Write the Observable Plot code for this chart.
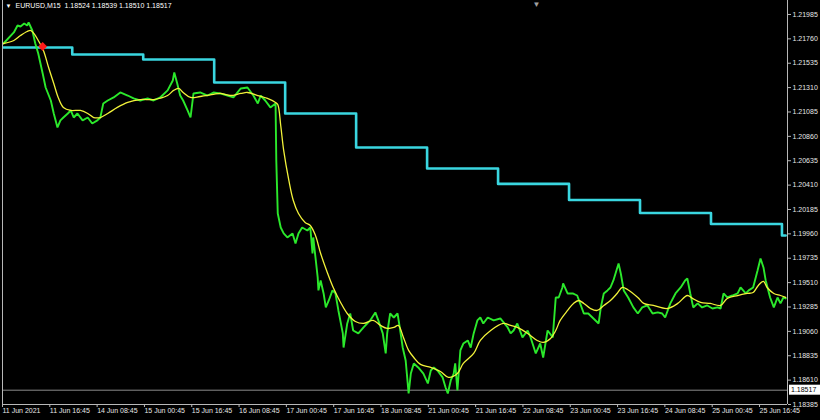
<!DOCTYPE html>
<html><head><meta charset="utf-8">
<script src="https://cdn.jsdelivr.net/npm/d3@7"></script>
<script src="https://cdn.jsdelivr.net/npm/@observablehq/plot@0.6"></script>
<style>
html,body{margin:0;padding:0;background:#000;}
#chart{width:820px;height:420px;position:relative;overflow:hidden;}
</style></head><body><div id="chart"></div>
<script>
const symbol = "EURUSD,M15";
const quote = ["1.18524", "1.18539", "1.18510", "1.18517"];
const lastPrice = 1.18517;

const priceTicks = [1.21985, 1.21760, 1.21535, 1.21310, 1.21085, 1.20860, 1.20635, 1.20410, 1.20185,
  1.19960, 1.19735, 1.19510, 1.19285, 1.19060, 1.18835, 1.18610, 1.18385];

const timeTickBars = [0, 64, 128, 192, 256, 320, 384, 448, 512, 576, 640, 704, 768, 832, 896, 960, 1024];
const timeTickLabels = ["11 Jun 2021", "11 Jun 16:45", "14 Jun 08:45", "15 Jun 00:45", "15 Jun 16:45",
  "16 Jun 08:45", "17 Jun 00:45", "17 Jun 16:45", "18 Jun 08:45", "21 Jun 00:45", "21 Jun 16:45",
  "22 Jun 08:45", "23 Jun 00:45", "23 Jun 16:45", "24 Jun 08:45", "25 Jun 00:45", "25 Jun 16:45"];

// close price (M15 bars, index from 11 Jun 00:45)
const closeBars = [0,14,19,23,28,32,34,39,43,47,53,57,64,68,73,77,81,87,91,95,100,107,114,120,127,131,135,141,149,158,168,176,185,195,203,212,222,229,231,235,239,243,249,253,257,266,276,284,293,303,311,321,330,338,344,348,354,361,368,369,371,375,379,384,391,395,399,404,411,415,418,419,425,426,429,433,436,440,445,449,453,459,460,465,469,473,480,487,496,503,507,513,517,519,523,528,533,536,540,544,548,551,555,561,568,574,578,582,587,594,598,601,605,609,611,614,618,622,628,632,636,641,645,649,655,663,672,682,686,690,695,702,709,713,720,726,730,736,743,747,751,756,757,763,770,776,780,785,791,798,805,808,812,817,821,825,832,835,839,845,852,858,864,871,878,885,891,895,902,909,916,922,925,929,933,939,945,952,959,966,970,974,979,986,993,997,1004,1008,1014,1020,1024,1028,1031,1037,1042,1047,1051,1055,1058];
const closeValues = [1.21717,1.21819,1.21883,1.21874,1.21902,1.21883,1.21911,1.21837,1.21717,1.21625,1.21440,1.21311,1.21191,1.21071,1.20942,1.21007,1.21034,1.21071,1.21099,1.21034,1.21071,1.21007,1.21034,1.20979,1.21007,1.21034,1.21164,1.21191,1.21219,1.21265,1.21237,1.21210,1.21191,1.21210,1.21191,1.21219,1.21284,1.21376,1.21450,1.21348,1.21237,1.21191,1.21099,1.21034,1.21256,1.21265,1.21237,1.21265,1.21256,1.21237,1.21219,1.21302,1.21311,1.21237,1.21164,1.21237,1.21191,1.21127,1.21164,1.20637,1.20148,1.20019,1.19964,1.19927,1.19964,1.19871,1.19964,1.20019,1.19991,1.20019,1.19779,1.19927,1.19558,1.19438,1.19530,1.19410,1.19281,1.19345,1.19438,1.19410,1.19253,1.19041,1.18911,1.19133,1.19225,1.19068,1.19041,1.19096,1.19161,1.19235,1.19161,1.19041,1.18856,1.19041,1.19225,1.19188,1.19225,1.19096,1.18911,1.18791,1.18487,1.18671,1.18764,1.18727,1.18671,1.18579,1.18699,1.18727,1.18699,1.18635,1.18542,1.18487,1.18607,1.18671,1.18764,1.18515,1.18884,1.18948,1.18976,1.18911,1.19041,1.19161,1.19188,1.19133,1.19188,1.19161,1.19179,1.19096,1.19041,1.19068,1.19133,1.19004,1.19068,1.19004,1.18856,1.18948,1.18819,1.19068,1.19004,1.19373,1.19373,1.19465,1.19502,1.19410,1.19410,1.19391,1.19318,1.19225,1.19225,1.19179,1.19133,1.19281,1.19410,1.19438,1.19465,1.19530,1.19687,1.19594,1.19438,1.19373,1.19281,1.19225,1.19281,1.19299,1.19225,1.19235,1.19225,1.19188,1.19318,1.19410,1.19465,1.19530,1.19548,1.19410,1.19281,1.19318,1.19281,1.19299,1.19271,1.19281,1.19271,1.19410,1.19373,1.19391,1.19410,1.19465,1.19410,1.19438,1.19465,1.19622,1.19733,1.19650,1.19530,1.19373,1.19281,1.19373,1.19318,1.19373,1.19364];

// moving average (yellow)
const maBars = [0,14,23,32,37,41,47,54,61,68,74,81,91,104,114,122,131,141,154,168,185,203,222,230,237,243,253,266,284,293,307,321,330,344,357,368,371,375,379,386,392,399,408,415,422,429,438,446,456,465,476,487,500,510,519,528,534,541,548,555,564,578,591,602,614,622,636,645,659,676,686,695,709,722,730,740,747,753,763,771,778,785,794,803,812,821,830,837,844,858,866,879,898,912,925,932,943,956,970,979,993,1006,1014,1021,1028,1033,1042,1051,1058];
const maValues = [1.21717,1.21745,1.21791,1.21828,1.21837,1.21810,1.21745,1.21653,1.21496,1.21348,1.21219,1.21127,1.21099,1.21099,1.21071,1.21034,1.21034,1.21071,1.21127,1.21173,1.21200,1.21200,1.21237,1.21284,1.21302,1.21265,1.21219,1.21228,1.21247,1.21256,1.21237,1.21256,1.21265,1.21237,1.21210,1.21173,1.21154,1.20960,1.20730,1.20453,1.20268,1.20148,1.20065,1.20037,1.19945,1.19779,1.19604,1.19465,1.19327,1.19225,1.19151,1.19133,1.19161,1.19115,1.19087,1.19096,1.19115,1.19004,1.18884,1.18819,1.18755,1.18727,1.18690,1.18635,1.18671,1.18764,1.18856,1.18976,1.19068,1.19133,1.19115,1.19096,1.19041,1.18976,1.18958,1.18995,1.19068,1.19161,1.19253,1.19318,1.19345,1.19318,1.19271,1.19253,1.19299,1.19345,1.19410,1.19465,1.19447,1.19373,1.19318,1.19299,1.19271,1.19318,1.19391,1.19364,1.19327,1.19318,1.19299,1.19364,1.19391,1.19410,1.19419,1.19484,1.19521,1.19465,1.19410,1.19391,1.19373];

// daily level (cyan steps)
const levelBars = [0, 93, 189, 285, 381, 477, 573, 669, 765, 861, 957, 1053, 1058];
const levelValues = [1.21680, 1.21616, 1.21570, 1.21357, 1.21071, 1.20757, 1.20564, 1.20421, 1.20273, 1.20153, 1.20051, 1.19945, 1.19945];

const signalBars = [53];
const signalValues = [1.21690];

const closeData = closeBars.map((b, i) => ({bar: b, price: closeValues[i]}));
const maData = maBars.map((b, i) => ({bar: b, price: maValues[i]}));
const levelData = levelBars.map((b, i) => ({bar: b, price: levelValues[i]}));
const signalData = signalBars.map((b, i) => ({bar: b, price: signalValues[i]}));

const xDomain = [-1.35, 1060.5];
const yDomain = [1.18385, 1.22114];
const frameColor = "#b8b8b8";
const font = "Liberation Sans, Arial, sans-serif";

const plot = Plot.plot({
  width: 820, height: 420,
  marginLeft: 2, marginRight: 33, marginTop: 0, marginBottom: 16,
  style: {background: "#000", color: "#e6e6e6", fontFamily: font, fontSize: "7px"},
  x: {type: "linear", domain: xDomain, label: null},
  y: {type: "linear", domain: yDomain, label: null},
  marks: [
    Plot.ruleY([lastPrice], {stroke: "#8a8a8a", strokeWidth: 1}),
    Plot.line(levelData, {x: "bar", y: "price", curve: "step-after", stroke: "#3ad6e0", strokeWidth: 2.6}),
    Plot.line(closeData, {x: "bar", y: "price", stroke: "#2be82b", strokeWidth: 1.9, strokeLinejoin: "miter"}),
    Plot.line(maData, {x: "bar", y: "price", curve: "catmull-rom", stroke: "#f2f23a", strokeWidth: 1.3}),
    Plot.dot(signalData, {x: "bar", y: "price", r: 4, fill: "#ff1a1a", symbol: "diamond2"}),
    Plot.ruleX([xDomain[0]], {stroke: frameColor}),
    Plot.ruleX([xDomain[1]], {stroke: frameColor}),
    Plot.ruleY([yDomain[0]], {stroke: frameColor}),
    Plot.axisY({anchor: "right", ticks: priceTicks, tickFormat: d => d.toFixed(5), tickSize: 3, tickPadding: 2, stroke: frameColor, label: null}),
    Plot.axisX({anchor: "bottom", ticks: timeTickBars, tickFormat: d => timeTickLabels[timeTickBars.indexOf(d)], textAnchor: "start", tickSize: 3, tickPadding: 1, dx: -1, stroke: frameColor, label: null}),
    Plot.text([symbol + "  " + quote.join(" ")], {frameAnchor: "top-left", dx: 13, dy: 3, fill: "#ffffff", fontSize: 7, textAnchor: "start"}),
    Plot.text(["▼"], {frameAnchor: "top-left", dx: 3, dy: 3, fill: "#ffffff", fontSize: 6, textAnchor: "start"}),
    Plot.text(["▼"], {frameAnchor: "top-left", dx: 530, dy: 1, lineAnchor: "top", fill: "#a0a0a0", fontSize: 8, textAnchor: "start"})
  ]
});

document.getElementById("chart").appendChild(plot);

// last-price box on the right axis
const svg = d3.select(plot);
const yp = plot.scale("y").apply(lastPrice);
const xr = plot.scale("x").apply(xDomain[1]);
const g = svg.append("g").attr("text-anchor", "start");
g.append("rect").attr("x", xr + 2).attr("y", yp - 5).attr("width", 31).attr("height", 10).attr("fill", "#ffffff");
g.append("text").attr("x", xr + 4).attr("y", yp).attr("dy", "0.35em").attr("fill", "#000").attr("font-size", 7)
  .attr("text-anchor", "start").attr("font-family", font).text(lastPrice.toFixed(5));
</script>
</body></html>
